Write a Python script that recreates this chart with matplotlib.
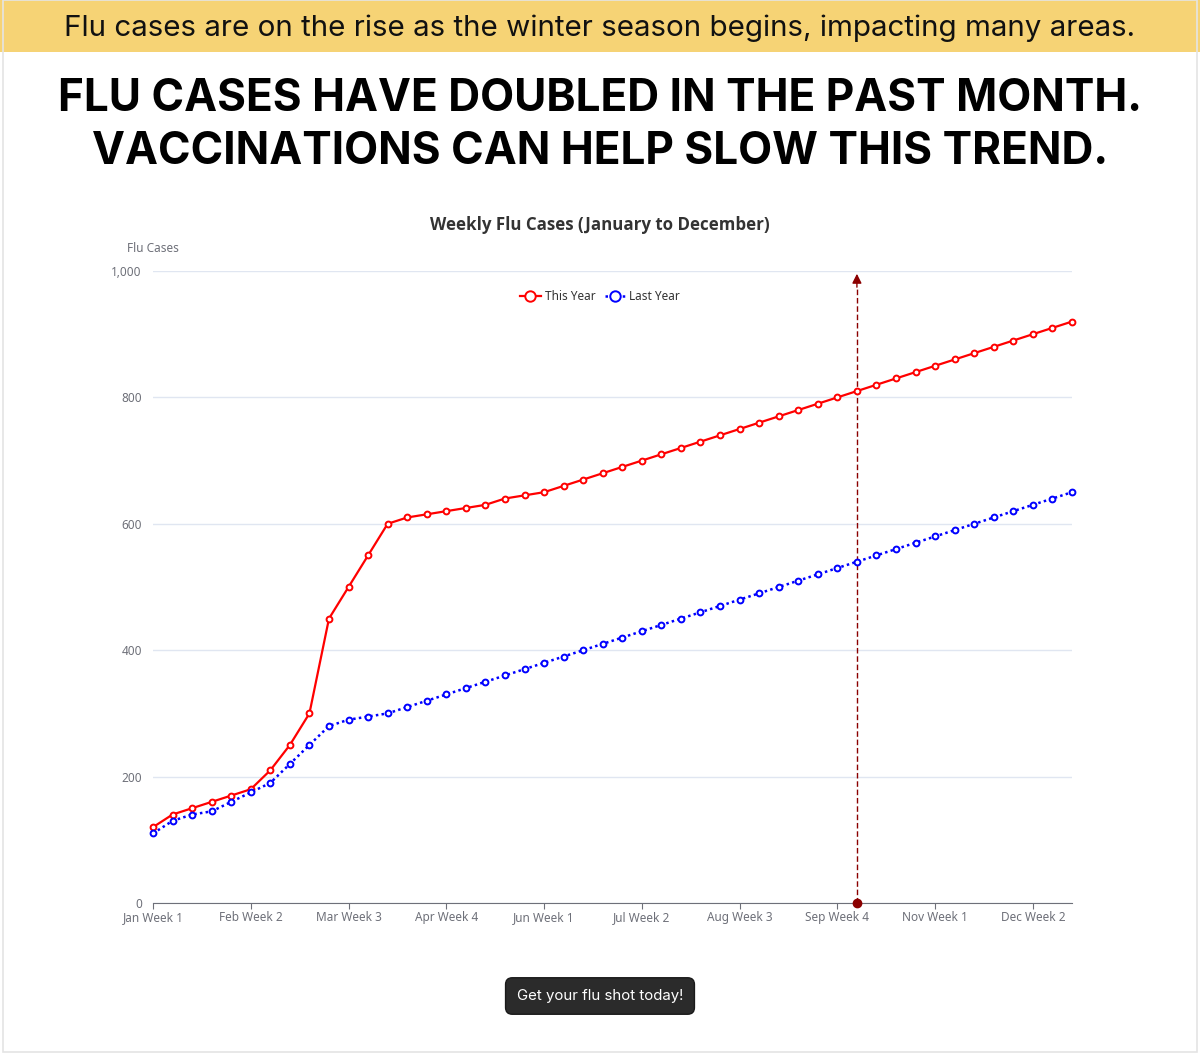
import matplotlib.pyplot as plt
from matplotlib.patches import Rectangle
from matplotlib.ticker import FuncFormatter

W, H = 1200, 1057

months = ["Jan", "Feb", "Mar", "Apr", "May", "Jun", "Jul", "Aug", "Sep", "Oct", "Nov", "Dec"]
weeks = ["%s Week %d" % (m, w) for m in months for w in range(1, 5)]

this_year = [120, 140, 150, 160, 170, 180, 210, 250, 300, 450, 500, 550,
             600, 610, 615, 620, 625, 630, 640, 645, 650, 660, 670, 680,
             690, 700, 710, 720, 730, 740, 750, 760, 770, 780, 790, 800,
             810, 820, 830, 840, 850, 860, 870, 880, 890, 900, 910, 920]
last_year = [110, 130, 140, 145, 160, 175, 190, 220, 250, 280, 290, 295,
             300, 310, 320, 330, 340, 350, 360, 370, 380, 390, 400, 410,
             420, 430, 440, 450, 460, 470, 480, 490, 500, 510, 520, 530,
             540, 550, 560, 570, 580, 590, 600, 610, 620, 630, 640, 650]
y_ticks = [0, 200, 400, 600, 800, 1000]
marker_week = "Oct Week 1"


def fx(px):
  return px / W


def fy(py):
  return 1 - py / H


fig = plt.figure(figsize=(W / 100, H / 100), dpi=100)

# top banner
fig.patches.append(Rectangle((0, fy(52)), 1, 52 / H, transform=fig.transFigure,
                             facecolor="#f6d375", edgecolor="none", zorder=0))
fig.patches.append(Rectangle((fx(3), fy(1052)), 1 - 6 / W, 1052 / H, transform=fig.transFigure,
                             facecolor="none", edgecolor="#e4e4e4", lw=1.2, zorder=1))
fig.text(0.5, fy(28), "Flu cases are on the rise as the winter season begins, impacting many areas.",
         ha="center", va="center", fontsize=21.3, family="Inter", color="#111111")

fig.text(0.5, fy(99), "FLU CASES HAVE DOUBLED IN THE PAST MONTH.", ha="center", va="center",
         fontsize=31.8, family="Inter", fontweight="bold", color="#000000")
fig.text(0.5, fy(152), "VACCINATIONS CAN HELP SLOW THIS TREND.", ha="center", va="center",
         fontsize=31.8, family="Inter", fontweight="bold", color="#000000")

fig.text(0.5, fy(225), "Weekly Flu Cases (January to December)", ha="center", va="center",
         fontsize=12.2, fontweight="bold", family="Open Sans", color="#333333")
fig.text(fx(153), fy(249), "Flu Cases", ha="center", va="center",
         fontsize=8.5, family="Noto Sans", color="#6e7079")

ax = fig.add_axes([fx(153), fy(903), (1072 - 153) / W, (903 - 271) / H])
x = list(range(len(weeks)))
l1, = ax.plot(x, this_year, color="#ff0000", lw=1.6, marker="o", markersize=4.2,
              markerfacecolor="white", markeredgewidth=1.4, clip_on=False, zorder=4)
l2, = ax.plot(x, last_year, color="#0000ff", lw=1.8, ls=(0, (1, 1.3)), marker="o", markersize=4.2,
              markerfacecolor="white", markeredgewidth=1.4, clip_on=False, zorder=4)

# marker line for the current week
mi = weeks.index(marker_week)
ax.plot([mi, mi], [0, 975], color="#8b0000", lw=1, ls=(0, (4, 2)), zorder=3)
ax.annotate("", xy=(mi, 1000), xytext=(mi, 970),
            arrowprops=dict(arrowstyle="-|>", color="#8b0000", lw=1, mutation_scale=14))
ax.plot([mi], [0], marker="o", color="#8b0000", markersize=6, clip_on=False, zorder=5)

ax.set_xlim(0, len(weeks) - 1)
ax.set_ylim(0, 1000)
ax.set_yticks(y_ticks)
ax.yaxis.set_major_formatter(FuncFormatter(lambda v, p: "{:,}".format(int(v))))
ax.set_xticks(x[::5])
ax.set_xticklabels(weeks[::5])
ax.grid(axis="y", color="#e0e6f1", lw=1)
ax.set_axisbelow(True)
for s in ["top", "right", "left"]:
  ax.spines[s].set_visible(False)
ax.spines["bottom"].set_color("#6e7079")
ax.tick_params(axis="y", length=0, pad=8, labelsize=8.5, labelcolor="#6e7079")
ax.tick_params(axis="x", length=4, color="#6e7079", pad=2, labelsize=8.5, labelcolor="#6e7079")
for t in ax.get_xticklabels() + ax.get_yticklabels():
  t.set_family("Noto Sans")

leg = ax.legend([l1, l2], ["This Year", "Last Year"], loc="center", bbox_to_anchor=(0.5, fy(297), 0, 0),
                bbox_transform=fig.transFigure, ncol=2, frameon=False,
                handlelength=1.8, columnspacing=0.8, handletextpad=0.3,
                prop={"family": "Noto Sans", "size": 8.5})
for h in leg.legend_handles:
  h.set_markersize(7.5)
for t in leg.get_texts():
  t.set_color("#333333")

fig.text(0.5, fy(996), "Get your flu shot today!", ha="center", va="center", fontsize=10.8,
         family="Inter", color="white",
         bbox=dict(boxstyle="round,pad=0.75,rounding_size=0.45", fc="#2b2b2b", ec="#1a1a1a"))

fig.savefig("out.png", dpi=100)
